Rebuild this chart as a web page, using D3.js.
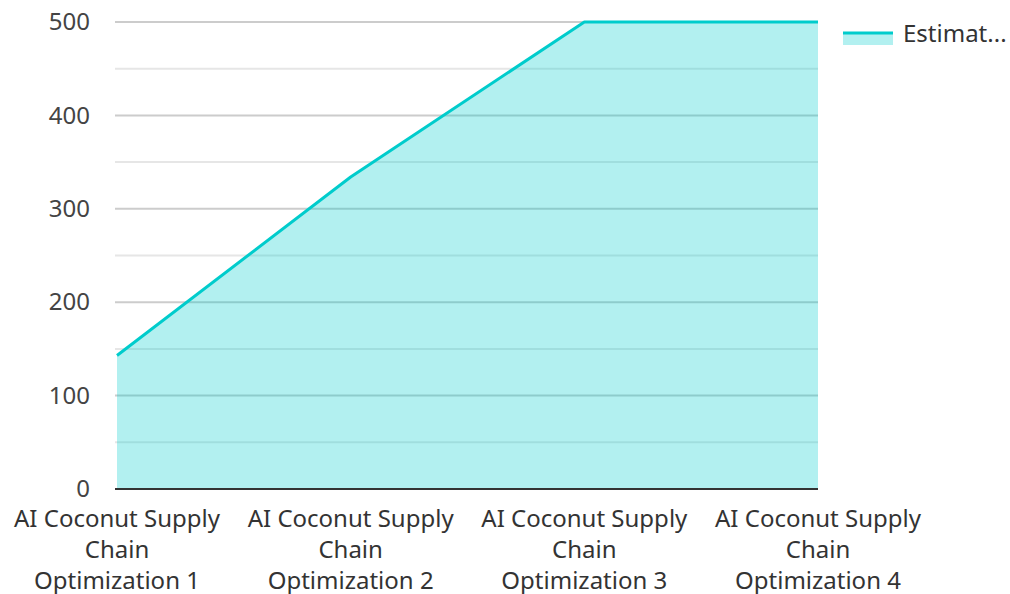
<!DOCTYPE html>
<html>
<head>
<meta charset="utf-8">
<script src="https://cdn.jsdelivr.net/npm/d3@7"></script>
<style>
  html, body { margin: 0; padding: 0; background: #fff; }
  svg { display: block; font-family: "Noto Sans", "Open Sans", sans-serif; }
</style>
</head>
<body>
<svg id="chart" width="1010" height="594"></svg>
<script>
const categories = [
  "AI Coconut Supply Chain Optimization 1",
  "AI Coconut Supply Chain Optimization 2",
  "AI Coconut Supply Chain Optimization 3",
  "AI Coconut Supply Chain Optimization 4"
];
const categoryLines = [
  ["AI Coconut Supply", "Chain", "Optimization 1"],
  ["AI Coconut Supply", "Chain", "Optimization 2"],
  ["AI Coconut Supply", "Chain", "Optimization 3"],
  ["AI Coconut Supply", "Chain", "Optimization 4"]
];
const values = [143, 334, 500, 500];
const seriesName = "Estimat...";
const yTicks = [0, 100, 200, 300, 400, 500];
const yMinorTicks = [50, 150, 250, 350, 450];

(function () {
const svg = d3.select("#chart");
const pLeft = 117, pRight = 818, pTop = 22, pBottom = 489;
const fs = 24;

const x = d3.scalePoint().domain(categories).range([pLeft, pRight]);
const y = d3.scaleLinear().domain([0, 500]).range([pBottom, pTop]);

// gridlines
const grid = svg.append("g");
grid.selectAll("line.minor").data(yMinorTicks).join("line")
  .attr("class", "minor")
  .attr("x1", pLeft - 2).attr("x2", pRight)
  .attr("y1", d => y(d)).attr("y2", d => y(d))
  .attr("stroke", "#e6e6e6").attr("stroke-width", 2);
grid.selectAll("line.major").data(yTicks.filter(d => d > 0)).join("line")
  .attr("class", "major")
  .attr("x1", pLeft - 2).attr("x2", pRight)
  .attr("y1", d => y(d)).attr("y2", d => y(d))
  .attr("stroke", "#cccccc").attr("stroke-width", 2);

// y axis labels
const yAxis = d3.axisLeft(y).tickValues(yTicks).tickSize(0).tickPadding(0);
const yg = svg.append("g").attr("transform", "translate(90,0)").call(yAxis);
yg.select(".domain").remove();
yg.selectAll("text").attr("font-size", fs).attr("fill", "#444")
  .attr("font-family", "'Noto Sans', 'Open Sans', sans-serif");

// area
const data = categories.map((c, i) => ({ c, v: values[i] }));
const area = d3.area().x(d => x(d.c)).y0(y(0)).y1(d => y(d.v));
svg.append("path").datum(data).attr("d", area)
  .attr("fill", "rgba(0,204,204,0.3)");
const line = d3.line().x(d => x(d.c)).y(d => y(d.v));
svg.append("path").datum(data).attr("d", line)
  .attr("fill", "none").attr("stroke", "#00cccc").attr("stroke-width", 3)
  .attr("stroke-linejoin", "round");

// x axis baseline
svg.append("line").attr("x1", pLeft - 2).attr("x2", pRight)
  .attr("y1", y(0)).attr("y2", y(0))
  .attr("stroke", "#333").attr("stroke-width", 2);

// x labels
const xl = svg.append("g");
categories.forEach((c, i) => {
  const t = xl.append("text")
    .attr("x", x(c)).attr("y", 527)
    .attr("text-anchor", "middle").attr("font-size", fs).attr("fill", "#333");
  categoryLines[i].forEach((ln, j) => {
    t.append("tspan").attr("x", x(c)).attr("y", 527 + j * 31).text(ln);
  });
});

// legend
const lg = svg.append("g");
lg.append("rect").attr("x", 843).attr("y", 33).attr("width", 50).attr("height", 12)
  .attr("fill", "rgba(0,204,204,0.3)");
lg.append("line").attr("x1", 843).attr("x2", 893).attr("y1", 33).attr("y2", 33)
  .attr("stroke", "#00cccc").attr("stroke-width", 3);
lg.append("text").attr("x", 903).attr("y", 42).attr("font-size", fs)
  .attr("fill", "#333").text(seriesName);
})();
</script>
</body>
</html>
